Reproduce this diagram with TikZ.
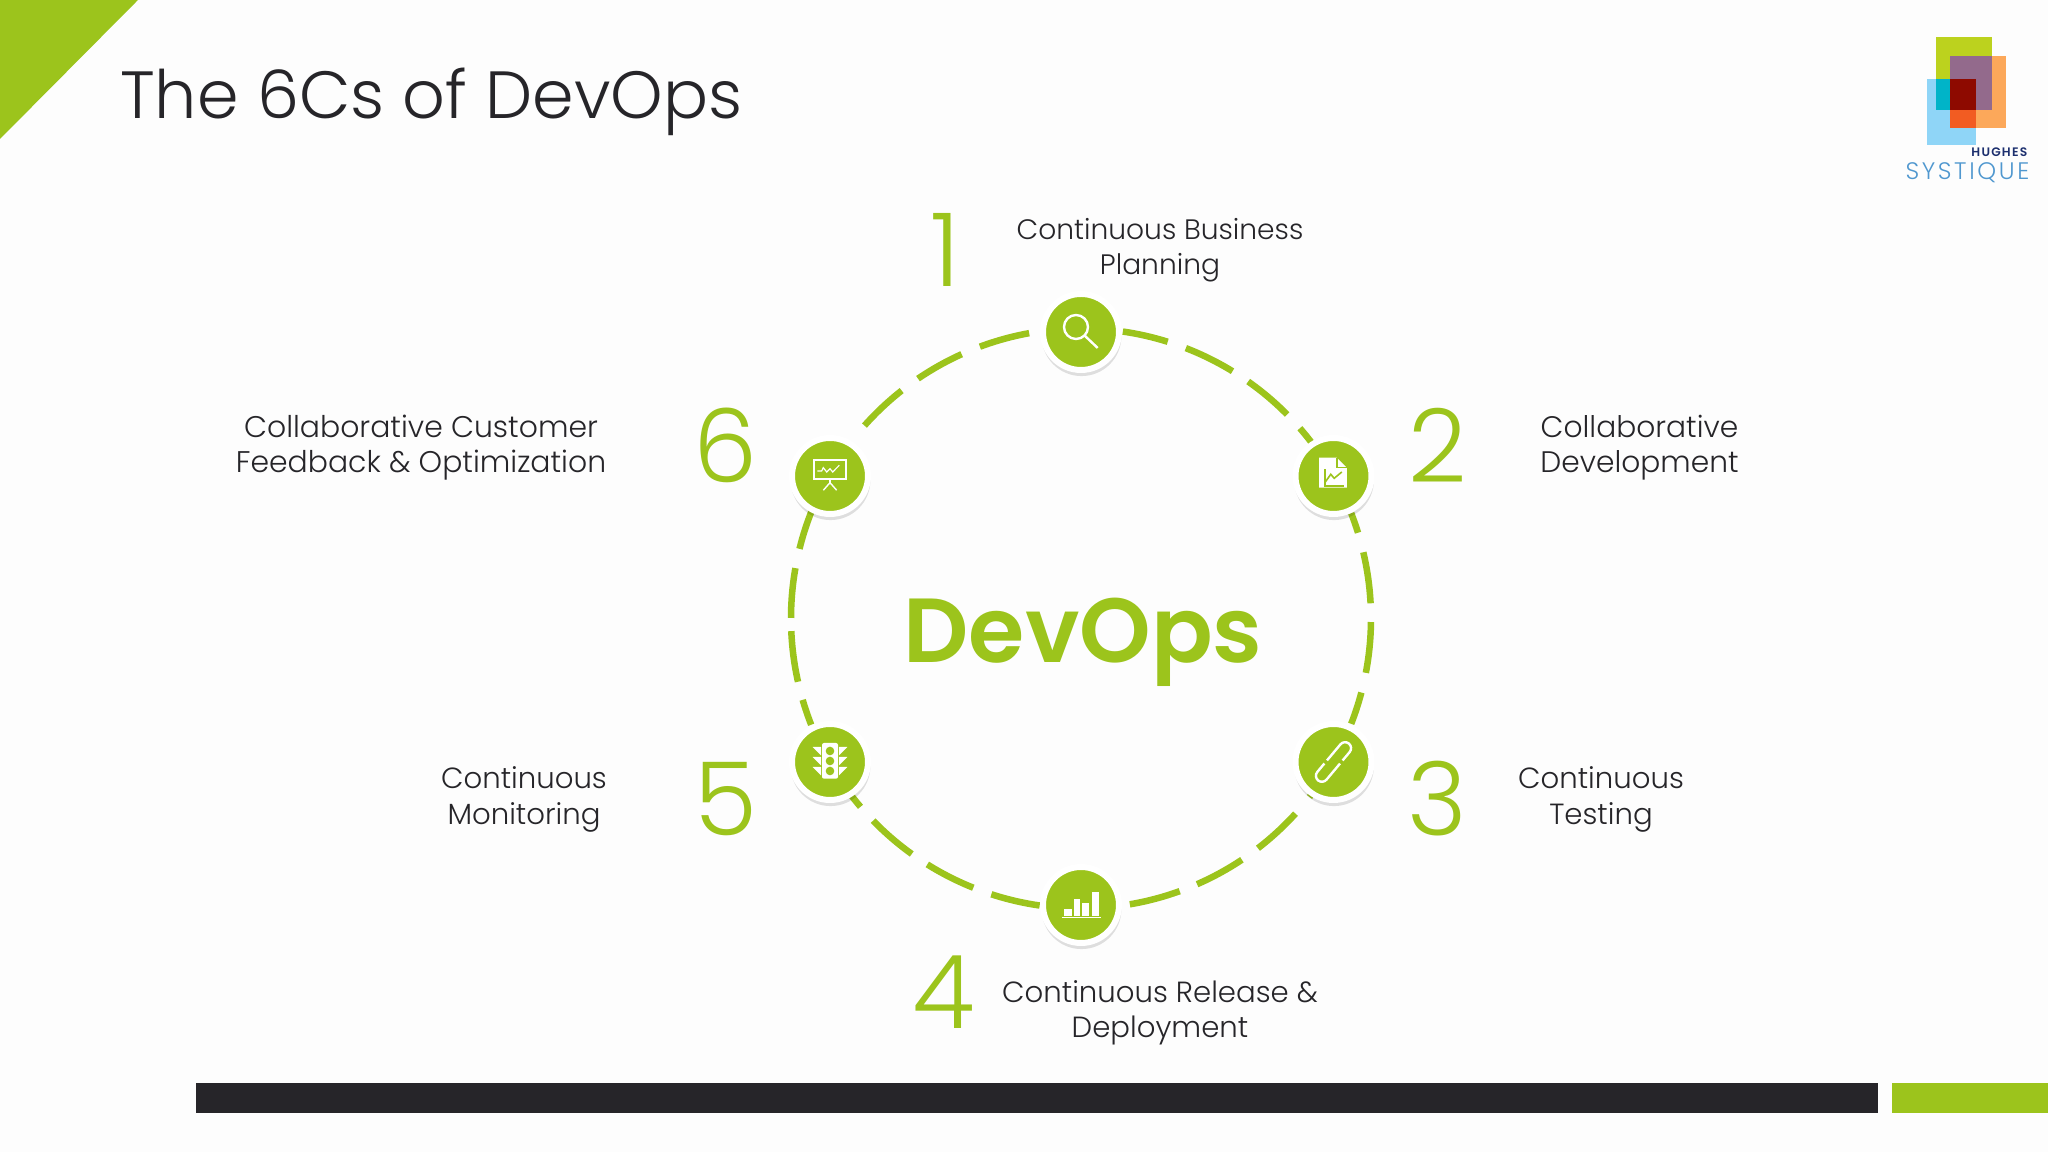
\documentclass[tikz,border=0pt]{standalone}
\usepackage{fontspec}
\setmainfont{Poppins}[UprightFont=* Light,BoldFont=* SemiBold]
\usetikzlibrary{shadows}
\definecolor{devgreen}{HTML}{9CC41C}
\definecolor{inkdark}{HTML}{262529}
\definecolor{pagewhite}{HTML}{FDFDFD}
\tikzset{
	ringdash/.style={draw=devgreen,line width=0.065cm},
	stepdisc/.style={circle,fill=devgreen,draw=white,line width=0.06cm,minimum size=0.76cm,inner sep=0pt,drop shadow={shadow xshift=0.005cm,shadow yshift=-0.04cm,opacity=0.12,fill=black,shadow scale=1.05}},
	steplabel/.style={align=center,text=inkdark,font=\fontsize{8.3}{10}\selectfont},
	stepnum/.style={text=devgreen,inner sep=0pt,font=\fontsize{29}{30}\selectfont},
	iconline/.style={draw=white,line width=0.024cm},
	iconfill/.style={fill=white},
	iconcut/.style={draw=devgreen,line width=0.016cm},
}
\begin{document}
\begin{tikzpicture}
		\useasboundingbox (0,0) rectangle (20.48,11.52);
		\fill [pagewhite] (0,0) rectangle (20.48,11.52);
		\fill [devgreen] (0,11.52) -- (1.38,11.52) -- (0,10.13) -- cycle;
		\fill [inkdark] (1.96,0.39) rectangle (18.78,0.693);
		\fill [devgreen] (18.923,0.39) rectangle (20.48,0.693);
		\node [anchor=base west,inner sep=0pt,text=inkdark,font=\fontsize{19}{20}\selectfont] (title) at (1.195,10.33) {The 6Cs of DevOps};
		% logo
		\fill [fill={rgb,255:red,188;green,210;blue,30}] (19.357,11.153) rectangle (19.917,10.42);
		\fill [fill={rgb,255:red,252;green,168;blue,90}] (19.503,10.96) rectangle (20.063,10.243);
		\fill [fill={rgb,255:red,143;green,213;blue,247}] (19.267,10.727) rectangle (19.76,10.073);
		\fill [fill={rgb,255:red,147;green,106;blue,140}] (19.503,10.96) rectangle (19.917,10.42);
		\fill [fill={rgb,255:red,0;green,180;blue,200}] (19.357,10.727) rectangle (19.76,10.42);
		\fill [fill={rgb,255:red,242;green,92;blue,34}] (19.503,10.727) rectangle (19.76,10.243);
		\fill [fill={rgb,255:red,142;green,10;blue,0}] (19.503,10.727) rectangle (19.76,10.42);
		\node [anchor=base east,inner sep=0pt,text={rgb,255:red,28;green,47;blue,110},font=\bfseries\fontsize{3.5}{4}\selectfont\addfontfeatures{LetterSpace=10}] (hughes) at (20.28,9.95) {HUGHES};
		\node [anchor=base east,inner sep=0pt,text={rgb,255:red,79;green,151;blue,207},font=\fontsize{6.8}{7}\selectfont\addfontfeatures{LetterSpace=11}] (systique) at (20.3,9.727) {SYSTIQUE};
		% ring
		\coordinate (hub) at (10.81,5.335);
		\draw [ringdash] ([shift={(81.7:2.9)}]hub) arc (81.7:72.6:2.9);
		\draw [ringdash] ([shift={(68.8:2.9)}]hub) arc (68.8:58.5:2.9);
		\draw [ringdash] ([shift={(54.8:2.9)}]hub) arc (54.8:44.7:2.9);
		\draw [ringdash] ([shift={(41:2.9)}]hub) arc (41:36:2.9);
		\draw [ringdash] ([shift={(21.3:2.9)}]hub) arc (21.3:17.2:2.9);
		\draw [ringdash] ([shift={(13.2:2.9)}]hub) arc (13.2:3:2.9);
		\draw [ringdash] ([shift={(-0.7:2.9)}]hub) arc (-0.7:-10.8:2.9);
		\draw [ringdash] ([shift={(-14.8:2.9)}]hub) arc (-14.8:-21.3:2.9);
		\draw [ringdash] ([shift={(-36:2.9)}]hub) arc (-36:-38:2.9);
		\draw [ringdash] ([shift={(-42.3:2.9)}]hub) arc (-42.3:-52.4:2.9);
		\draw [ringdash] ([shift={(-56.3:2.9)}]hub) arc (-56.3:-66.4:2.9);
		\draw [ringdash] ([shift={(-70.1:2.9)}]hub) arc (-70.1:-80.3:2.9);
		\draw [ringdash] ([shift={(261.8:2.9)}]hub) arc (261.8:252:2.9);
		\draw [ringdash] ([shift={(248.2:2.9)}]hub) arc (248.2:238:2.9);
		\draw [ringdash] ([shift={(234.3:2.9)}]hub) arc (234.3:224.2:2.9);
		\draw [ringdash] ([shift={(220.5:2.9)}]hub) arc (220.5:216:2.9);
		\draw [ringdash] ([shift={(201.5:2.9)}]hub) arc (201.5:196.3:2.9);
		\draw [ringdash] ([shift={(192.6:2.9)}]hub) arc (192.6:182.5:2.9);
		\draw [ringdash] ([shift={(179.9:2.9)}]hub) arc (179.9:170:2.9);
		\draw [ringdash] ([shift={(166.1:2.9)}]hub) arc (166.1:158:2.9);
		\draw [ringdash] ([shift={(138.3:2.9)}]hub) arc (138.3:128.2:2.9);
		\draw [ringdash] ([shift={(124.2:2.9)}]hub) arc (124.2:114.3:2.9);
		\draw [ringdash] ([shift={(110.4:2.9)}]hub) arc (110.4:100.3:2.9);
		% discs
		\node [stepdisc] (n1) at (10.81,8.2) {};
		\node [stepdisc] (n2) at (13.335,6.76) {};
		\node [stepdisc] (n3) at (13.335,3.9) {};
		\node [stepdisc] (n4) at (10.81,2.47) {};
		\node [stepdisc] (n5) at (8.3,3.9) {};
		\node [stepdisc] (n6) at (8.3,6.76) {};
		\node [anchor=base,inner sep=0pt,text=devgreen,font=\bfseries\fontsize{25.9}{27}\selectfont] (devops) at (10.83,4.89) {DevOps};
		% numbers
		\node [stepnum] (d1) at (9.45,9.02) {1};
		\node [stepnum] (d2) at (14.38,7.07) {2};
		\node [stepnum] (d3) at (14.37,3.53) {3};
		\node [stepnum] (d4) at (9.44,1.6) {4};
		\node [stepnum] (d5) at (7.26,3.53) {5};
		\node [stepnum] (d6) at (7.26,7.07) {6};
		% labels
		\node [steplabel,font=\fontsize{8}{10}\selectfont] (l1) at (11.6,9.015) {Continuous Business\\Planning};
		\node [steplabel,font=\fontsize{8.45}{10}\selectfont] (l2) at (16.395,7.045) {Collaborative\\Development};
		\node [steplabel] (l3) at (16.01,3.525) {Continuous\\Testing};
		\node [steplabel] (l4) at (11.6,1.395) {Continuous Release \&\\Deployment};
		\node [steplabel] (l5) at (5.24,3.525) {Continuous\\Monitoring};
		\node [steplabel,font=\fontsize{8.5}{10}\selectfont] (l6) at (4.21,7.045) {Collaborative Customer\\Feedback \& Optimization};
		% magnifier
		\begin{scope}[shift={(n1.center)}]
		\draw [iconline] (-0.05,0.05) circle (0.12cm);
		\draw [iconline] (0.033,-0.033) -- (0.167,-0.16);
		\end{scope}
		% sheet with chart
		\begin{scope}[shift={(n2.center)}]
		\fill [iconfill] (-0.143,0.183) -- (0.033,0.183) -- (0.133,0.083) -- (0.133,-0.117) -- (-0.143,-0.117) -- cycle;
		\draw [iconcut] (0.033,0.183) -- (0.033,0.083) -- (0.133,0.083);
		\draw [iconcut] (-0.087,0.067) -- (-0.087,-0.1) -- (0.1,-0.1);
		\draw [iconcut] (-0.087,-0.067) -- (-0.027,0.017) -- (0.007,-0.023) -- (0.083,0.04);
		\end{scope}
		% chain
		\begin{scope}[shift={(n3.center)},rotate=50]
		\draw [iconline,rounded corners=0.06cm] (-0.03,0.06) -- (0.24,0.06) -- (0.24,-0.06) -- (0.07,-0.06);
		\draw [iconline,rounded corners=0.06cm] (0.03,-0.06) -- (-0.24,-0.06) -- (-0.24,0.06) -- (-0.07,0.06);
		\end{scope}
		% bars
		\begin{scope}[shift={(n4.center)}]
		\fill [iconfill] (-0.167,-0.115) rectangle (-0.09,-0.04);
		\fill [iconfill] (-0.073,-0.115) rectangle (-0.008,0.057);
		\fill [iconfill] (0.012,-0.115) rectangle (0.082,0.017);
		\fill [iconfill] (0.106,-0.115) rectangle (0.176,0.133);
		\draw [iconline,line width=0.012cm] (-0.192,-0.127) -- (0.196,-0.127);
		\end{scope}
		% traffic light
		\begin{scope}[shift={(n5.center)}]
		\fill [iconfill,rounded corners=0.02cm] (-0.08,0.19) rectangle (0.08,-0.167);
		\fill [iconfill] (-0.173,0.15) -- (-0.09,0.15) -- (-0.09,0.067) -- cycle;
		\fill [iconfill] (-0.173,0.05) -- (-0.09,0.05) -- (-0.09,-0.033) -- cycle;
		\fill [iconfill] (-0.173,-0.05) -- (-0.09,-0.05) -- (-0.09,-0.133) -- cycle;
		\fill [iconfill] (0.173,0.15) -- (0.09,0.15) -- (0.09,0.067) -- cycle;
		\fill [iconfill] (0.173,0.05) -- (0.09,0.05) -- (0.09,-0.033) -- cycle;
		\fill [iconfill] (0.173,-0.05) -- (0.09,-0.05) -- (0.09,-0.133) -- cycle;
		\fill [devgreen] (0,0.11) circle (0.043cm);
		\fill [devgreen] (0,0.01) circle (0.043cm);
		\fill [devgreen] (0,-0.09) circle (0.043cm);
		\end{scope}
		% presentation board
		\begin{scope}[shift={(n6.center)}]
		\draw [iconline] (-0.16,0.16) rectangle (0.16,-0.03);
		\draw [iconline,line width=0.012cm] (-0.127,0.05) -- (-0.083,0.05) -- (-0.067,0.083) -- (-0.033,0.04) -- (0,0.073) -- (0.027,0.04) -- (0.093,0.107);
		\draw [iconline,line width=0.014cm] (0,-0.033) -- (0,-0.067);
		\draw [iconline,line width=0.014cm] (-0.067,-0.143) -- (0,-0.067) -- (0.067,-0.143);
		\end{scope}
		\end{tikzpicture}
\end{document}
